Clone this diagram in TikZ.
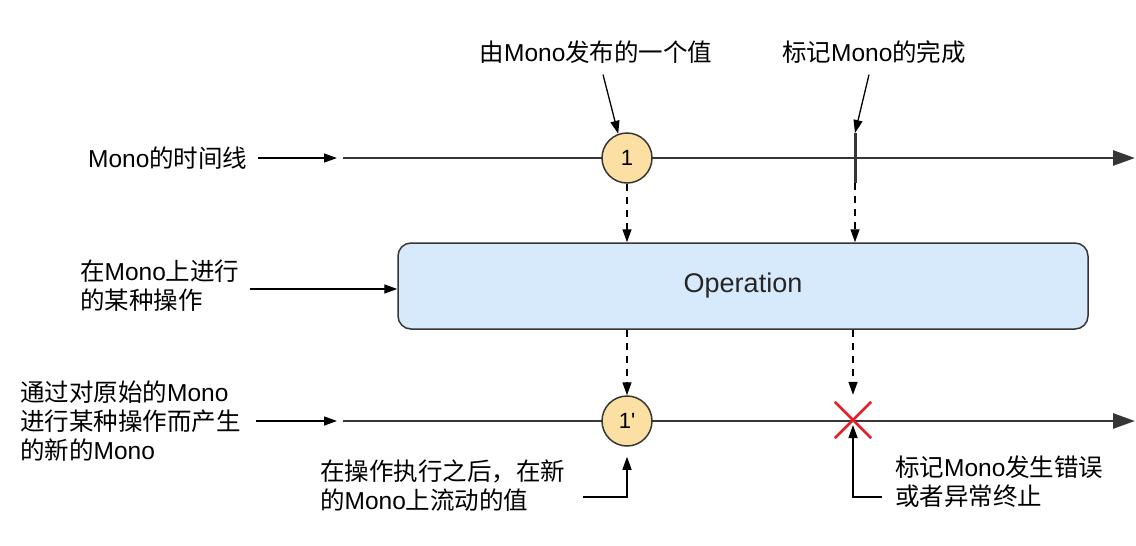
\documentclass[tikz,border=0pt]{standalone}
\usepackage{fontspec}
\setmainfont{Liberation Sans}
\newfontfamily\cjk{Noto Sans CJK SC}
\usetikzlibrary{arrows.meta}
\usetikzlibrary{positioning}
\definecolor{linegray}{HTML}{363636}
\definecolor{valuefill}{HTML}{FCDFA3}
\definecolor{opfill}{HTML}{D6EAFC}
\definecolor{errred}{HTML}{E0202B}
\newcommand{\monotxt}{{\rmfamily Mono}}

\begin{document}
\begin{tikzpicture}[x=1pt,y=-1pt,
  note/.style={font=\cjk\fontsize{24.5}{29}\selectfont, align=left, inner sep=0pt},
  value/.style={circle, draw=linegray, line width=1.5pt, fill=valuefill, minimum size=50pt, inner sep=0pt, font=\fontsize{22}{24}\selectfont},
  timeline/.style={draw=linegray, line width=2.7pt, -{Triangle[length=22pt,width=15pt]}},
  pointer/.style={draw=black, line width=1.3pt, -{Triangle[length=13pt,width=9pt]}},
  flow/.style={pointer, dash pattern=on 7pt off 6pt}]
\useasboundingbox (0,0) rectangle (1136,546);

% top timeline
\node[note, anchor=west] (tlname) at (88,158) {\monotxt 的时间线};
\coordinate (t1s) at (343,158);
\coordinate (t1e) at (1135,158);
\draw[timeline] (t1s) -- (t1e);
\draw[pointer] ([xshift=10pt]tlname.east) -- ([xshift=-6pt]t1s);
\node[value] (v1) at (627,158) {1};
\coordinate (done) at (855,158);
\draw[linegray, line width=3pt] (done) ++(0,-25) -- ++(0,50);

\node[note] (pub) at (596,52) {由\monotxt 发布的一个值};
\node[note] (fin) at (874,52) {标记\monotxt 的完成};
\draw[pointer] ([xshift=7pt,yshift=-11pt]pub.south) -- (v1.110);
\draw[pointer] ([xshift=-5pt,yshift=-11pt]fin.south) -- ([yshift=25pt]done);

% operation
\node[draw=linegray, fill=opfill, rounded corners=13pt, line width=1.5pt, text=black!85,
      minimum width=690pt, minimum height=86pt, font=\fontsize{27}{30}\selectfont] (op) at (743,286) {Operation};
\node[note, anchor=west] (opname) at (80,286) {在\monotxt 上进行\\的某种操作};
\draw[pointer] ([xshift=10pt]opname.east |- 0,289) -- (op.west |- 0,289);
\draw[flow] (v1.south) -- (v1.south |- op.north);
\draw[flow] ([yshift=-25pt]done) -- (done |- op.north);

% new timeline
\coordinate (t2s) at (343,421);
\coordinate (t2e) at (1135,421);
\draw[timeline] (t2s) -- (t2e);
\node[note, anchor=west] (newname) at (20,421) {通过对原始的\monotxt\\进行某种操作而产生\\的新的\monotxt};
\draw[pointer] (newname.east |- t2s) ++(15,0) -- ([xshift=-6pt]t2s);
\node[value] (v2) at (627,421) {1\textquotesingle};
\node[minimum size=36pt, inner sep=0pt] (err) at (853,420) {};
\draw[errred, line width=2.5pt] (err.north west) -- (err.south east) (err.north east) -- (err.south west);
\draw[flow] (v1.south |- op.south) -- (v2.north);
\draw[flow] (err |- op.south) -- ([yshift=7pt]err.north);

% notes below
\node[note, anchor=west] (flowed) at (320,486) {在操作执行之后，在新\\的\monotxt 上流动的值};
\coordinate (flowend) at (583,497);
\draw[pointer] (flowend) -| ([yshift=-10pt]v2.south);
\node[note, anchor=west] (failed) at (895,482) {标记\monotxt 发生错误\\或者异常终止};
\coordinate (failend) at (882,497);
\draw[pointer] (failend) -| ([yshift=-5pt]err.center);
\end{tikzpicture}
\end{document}
